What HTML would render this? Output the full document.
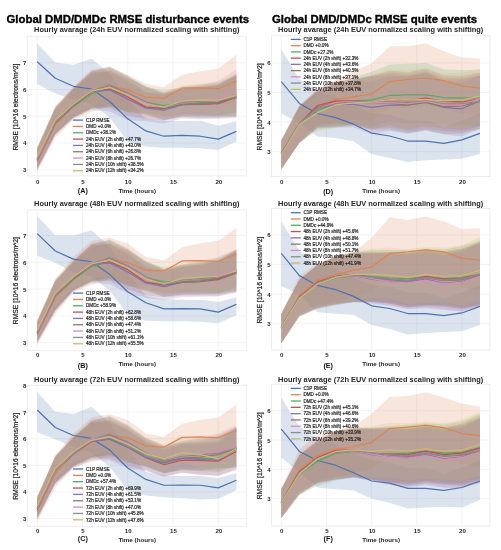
<!DOCTYPE html>
<html><head><meta charset="utf-8"><style>
html,body{margin:0;padding:0;background:#fff;}
body{width:501px;height:550px;overflow:hidden;}
svg{display:block;filter:blur(0.35px);}
text{font-family:"Liberation Sans", sans-serif;fill:#262626;}
.ttl{font-size:10.6px;font-weight:bold;fill:#000;stroke:#000;stroke-width:0.35px;}
.sub{font-size:7.8px;font-weight:bold;}
.lg{font-size:9.3px;fill:#1e1e1e;stroke:#1e1e1e;stroke-width:0.36px;}
.tk{font-size:6.1px;font-weight:bold;}
.xl{font-size:6.26px;font-weight:bold;}
.pl{font-size:7.2px;font-weight:bold;fill:#111;}
.yl{font-size:6.75px;stroke:#262626;stroke-width:0.22px;}
</style></head><body>
<svg width="501" height="550" viewBox="0 0 501 550">
<rect width="501" height="550" fill="#fff"/>
<text x="6.5" y="22.6" class="ttl" textLength="242.5" lengthAdjust="spacingAndGlyphs">Global DMD/DMDc RMSE disturbance events</text>
<text x="272" y="22.9" class="ttl" textLength="205.1" lengthAdjust="spacingAndGlyphs">Global DMD/DMDc RMSE quite events</text>
<clipPath id="clipA"><rect x="27.2" y="36.2" width="219.1" height="139.7"/></clipPath>
<path d="M37.2 36.2V175.9M82.47 36.2V175.9M127.74 36.2V175.9M173.01 36.2V175.9M218.28 36.2V175.9M27.2 169.6H246.3M27.2 142.9H246.3M27.2 116.2H246.3M27.2 89.5H246.3M27.2 62.8H246.3" stroke="#f0f0f0" stroke-width="0.8" fill="none"/>
<rect x="27.2" y="36.2" width="219.1" height="139.7" fill="none" stroke="#e9e9e9" stroke-width="0.8"/>
<g clip-path="url(#clipA)"><polygon points="37.2,43.58 55.31,62.53 73.42,64.67 91.52,58.79 109.63,73.48 127.74,100.18 145.85,118.87 163.96,121.01 182.06,121.01 200.17,120.74 218.28,125.81 236.39,121.01 236.39,141.56 218.28,150.11 200.17,148.24 182.06,147.71 163.96,147.71 145.85,146.64 127.74,141.56 109.63,117.53 91.52,103.92 73.42,99.65 55.31,93.51 37.2,83.89" fill="#4c72b0" fill-opacity="0.2"/><polygon points="37.2,147.17 55.31,106.32 73.42,86.83 91.52,69.74 109.63,66.54 127.74,75.08 145.85,83.63 163.96,87.36 182.06,74.81 200.17,71.34 218.28,68.41 236.39,54.79 236.39,102.58 218.28,104.72 200.17,102.85 182.06,102.05 163.96,111.66 145.85,110.59 127.74,110.59 109.63,106.59 91.52,111.93 73.42,119.94 55.31,137.83 37.2,171.74" fill="#dd8452" fill-opacity="0.2"/><polygon points="37.2,148.77 55.31,109.26 73.42,90.03 91.52,74.55 109.63,70.81 127.74,78.02 145.85,86.83 163.96,90.83 182.06,87.36 200.17,86.03 218.28,84.16 236.39,73.48 236.39,112.36 218.28,115.45 200.17,114.84 182.06,114.23 163.96,116.47 145.85,113.26 127.74,112.18 109.63,106.48 91.52,109.1 73.42,117.53 55.31,134.09 37.2,167.77" fill="#55a868" fill-opacity="0.2"/><polygon points="37.2,149.84 55.31,108.72 73.42,88.97 91.52,72.41 109.63,70.81 127.74,79.89 145.85,91.64 163.96,93.77 182.06,89.23 200.17,87.9 218.28,85.5 236.39,76.15 236.39,116.73 218.28,118.07 200.17,117.91 182.06,117.21 163.96,120.47 145.85,119.14 127.74,115.72 109.63,108.19 91.52,108.46 73.42,117.53 55.31,134.62 37.2,169.65" fill="#c44e52" fill-opacity="0.2"/><polygon points="37.2,149.31 55.31,108.19 73.42,88.43 91.52,72.15 109.63,71.88 127.74,82.02 145.85,92.44 163.96,95.37 182.06,89.23 200.17,87.63 218.28,84.69 236.39,75.35 236.39,118.07 218.28,118.87 200.17,119.14 182.06,118.6 163.96,123.41 145.85,121.27 127.74,119.94 109.63,111.39 91.52,110.06 73.42,118.34 55.31,135.42 37.2,170.13" fill="#8172b3" fill-opacity="0.2"/><polygon points="37.2,148.24 55.31,107.66 73.42,88.43 91.52,71.61 109.63,67.34 127.74,76.42 145.85,87.36 163.96,93.51 182.06,88.7 200.17,87.1 218.28,84.16 236.39,75.35 236.39,115.51 218.28,116.41 200.17,116.81 182.06,116.4 163.96,119.94 145.85,114.6 127.74,111.83 109.63,104.29 91.52,107.28 73.42,116.73 55.31,133.29 37.2,167.85" fill="#937860" fill-opacity="0.2"/><polygon points="37.2,148.77 55.31,107.66 73.42,87.9 91.52,70.28 109.63,69.21 127.74,77.22 145.85,87.36 163.96,92.7 182.06,87.36 200.17,84.96 218.28,80.69 236.39,69.21 236.39,107.23 218.28,111.34 200.17,113.18 182.06,113.68 163.96,117.8 145.85,113.26 127.74,110.55 109.63,104.02 91.52,104.08 73.42,114.86 55.31,131.95 37.2,167.37" fill="#da8bc3" fill-opacity="0.2"/><polygon points="37.2,148.24 55.31,107.12 73.42,87.9 91.52,71.61 109.63,66.81 127.74,75.62 145.85,86.03 163.96,92.97 182.06,86.83 200.17,84.96 218.28,82.56 236.39,74.81 236.39,116.47 218.28,115.93 200.17,115.72 182.06,115.51 163.96,120.34 145.85,114.2 127.74,112.49 109.63,105.25 91.52,108.59 73.42,117.13 55.31,133.69 37.2,168.56" fill="#8c8c8c" fill-opacity="0.2"/><polygon points="37.2,146.64 55.31,106.05 73.42,87.36 91.52,71.88 109.63,69.21 127.74,78.02 145.85,88.7 163.96,92.44 182.06,85.49 200.17,83.36 218.28,82.02 236.39,74.01 236.39,112.46 218.28,113 200.17,111.87 182.06,112.09 163.96,117.8 145.85,114.87 127.74,111.77 109.63,104.45 91.52,106.05 73.42,114.6 55.31,130.62 37.2,165.43" fill="#ccb974" fill-opacity="0.2"/><polyline points="37.2,61.73 55.31,78.29 73.42,86.3 91.52,88.97 109.63,101.52 127.74,118.87 145.85,130.88 163.96,136.22 182.06,135.42 200.17,136.22 218.28,139.16 236.39,131.42" fill="none" stroke="#4c72b0" stroke-width="1.2" stroke-linejoin="round"/><polyline points="37.2,161.59 55.31,124.48 73.42,106.59 91.52,93.24 109.63,85.23 127.74,89.77 145.85,97.24 163.96,98.31 182.06,88.17 200.17,87.9 218.28,88.7 236.39,81.22" fill="none" stroke="#dd8452" stroke-width="1.2" stroke-linejoin="round"/><polyline points="37.2,159.45 55.31,123.14 73.42,106.59 91.52,93.77 109.63,88.97 127.74,95.11 145.85,102.32 163.96,105.52 182.06,102.85 200.17,102.58 218.28,102.32 236.39,94.84" fill="none" stroke="#55a868" stroke-width="1.2" stroke-linejoin="round"/><polyline points="37.2,160.52 55.31,122.61 73.42,105.52 91.52,91.64 109.63,88.97 127.74,96.98 145.85,107.12 163.96,108.46 182.06,104.72 200.17,104.45 218.28,103.65 236.39,97.51" fill="none" stroke="#c44e52" stroke-width="1.2" stroke-linejoin="round"/><polyline points="37.2,159.99 55.31,122.07 73.42,104.99 91.52,91.37 109.63,90.03 127.74,99.11 145.85,107.92 163.96,110.06 182.06,104.72 200.17,104.18 218.28,102.85 236.39,96.71" fill="none" stroke="#8172b3" stroke-width="1.2" stroke-linejoin="round"/><polyline points="37.2,158.92 55.31,121.54 73.42,104.99 91.52,90.83 109.63,85.49 127.74,93.51 145.85,102.85 163.96,108.19 182.06,104.18 200.17,103.65 218.28,102.32 236.39,96.71" fill="none" stroke="#937860" stroke-width="1.2" stroke-linejoin="round"/><polyline points="37.2,159.45 55.31,121.54 73.42,104.45 91.52,89.5 109.63,87.36 127.74,94.31 145.85,102.85 163.96,107.39 182.06,102.85 200.17,101.52 218.28,98.84 236.39,90.57" fill="none" stroke="#da8bc3" stroke-width="1.2" stroke-linejoin="round"/><polyline points="37.2,158.92 55.31,121.01 73.42,104.45 91.52,90.83 109.63,84.96 127.74,92.7 145.85,101.52 163.96,107.66 182.06,102.32 200.17,101.52 218.28,100.71 236.39,96.17" fill="none" stroke="#8c8c8c" stroke-width="1.2" stroke-linejoin="round"/><polyline points="37.2,157.32 55.31,119.94 73.42,103.92 91.52,91.1 109.63,87.36 127.74,95.11 145.85,104.18 163.96,107.12 182.06,100.98 200.17,99.91 218.28,100.18 236.39,95.37" fill="none" stroke="#ccb974" stroke-width="1.2" stroke-linejoin="round"/></g>
<rect x="71" y="115.9" width="76" height="58.84" rx="1" fill="#ffffff" fill-opacity="0.0"/>
<path d="M73 120.1H83" stroke="#4c72b0" stroke-width="1.3"/>
<text transform="translate(86,121.8) scale(0.5)" class="lg">C1P RMSE</text>
<path d="M73 126.43H83" stroke="#dd8452" stroke-width="1.3"/>
<text transform="translate(86,128.13) scale(0.5)" class="lg">DMD +0.0%</text>
<path d="M73 132.76H83" stroke="#55a868" stroke-width="1.3"/>
<text transform="translate(86,134.46) scale(0.5)" class="lg">DMDc +38.2%</text>
<path d="M73 139.09H83" stroke="#c44e52" stroke-width="1.3"/>
<text transform="translate(86,140.79) scale(0.5)" class="lg">24h EUV (2h shift) +47.7%</text>
<path d="M73 145.42H83" stroke="#8172b3" stroke-width="1.3"/>
<text transform="translate(86,147.12) scale(0.5)" class="lg">24h EUV (4h shift) +43.0%</text>
<path d="M73 151.75H83" stroke="#937860" stroke-width="1.3"/>
<text transform="translate(86,153.45) scale(0.5)" class="lg">24h EUV (6h shift) +26.8%</text>
<path d="M73 158.08H83" stroke="#da8bc3" stroke-width="1.3"/>
<text transform="translate(86,159.78) scale(0.5)" class="lg">24h EUV (8h shift) +26.7%</text>
<path d="M73 164.41H83" stroke="#8c8c8c" stroke-width="1.3"/>
<text transform="translate(86,166.11) scale(0.5)" class="lg">24h EUV (10h shift) +38.5%</text>
<path d="M73 170.74H83" stroke="#ccb974" stroke-width="1.3"/>
<text transform="translate(86,172.44) scale(0.5)" class="lg">24h EUV (12h shift) +34.2%</text>
<text x="37.7" y="183.6" class="tk" text-anchor="middle">0</text>
<text x="82.97" y="183.6" class="tk" text-anchor="middle">5</text>
<text x="128.24" y="183.6" class="tk" text-anchor="middle">10</text>
<text x="173.51" y="183.6" class="tk" text-anchor="middle">15</text>
<text x="218.78" y="183.6" class="tk" text-anchor="middle">20</text>
<text x="24.8" y="172.1" class="tk" text-anchor="middle">3</text>
<text x="24.8" y="145.4" class="tk" text-anchor="middle">4</text>
<text x="24.8" y="118.7" class="tk" text-anchor="middle">5</text>
<text x="24.8" y="92" class="tk" text-anchor="middle">6</text>
<text x="24.8" y="65.3" class="tk" text-anchor="middle">7</text>
<text x="136.75" y="32.3" class="sub" text-anchor="middle" textLength="205.3" lengthAdjust="spacingAndGlyphs">Hourly avarage (24h EUV normalized scaling with shifting)</text>
<text x="137.25" y="193.2" class="xl" text-anchor="middle">Time (hours)</text>
<text x="82.8" y="193.4" class="pl" text-anchor="middle">(A)</text>
<text transform="translate(18.2,107.05) rotate(-90)" class="yl" text-anchor="middle">RMSE [10^16 electrons/m^2]</text>
<clipPath id="clipB"><rect x="27.2" y="210" width="219.1" height="140.7"/></clipPath>
<path d="M37.2 210V350.7M82.47 210V350.7M127.74 210V350.7M173.01 210V350.7M218.28 210V350.7M27.2 342.7H246.3M27.2 315.9H246.3M27.2 289.1H246.3M27.2 262.3H246.3M27.2 235.5H246.3" stroke="#f0f0f0" stroke-width="0.8" fill="none"/>
<rect x="27.2" y="210" width="219.1" height="140.7" fill="none" stroke="#e9e9e9" stroke-width="0.8"/>
<g clip-path="url(#clipB)"><polygon points="37.2,216.2 55.31,235.23 73.42,235.5 91.52,230.14 109.63,246.22 127.74,273.02 145.85,295.8 163.96,299.28 182.06,299.82 200.17,299.82 218.28,301.96 236.39,297.14 236.39,315.36 218.28,323.14 200.17,321.8 182.06,321.26 163.96,321.26 145.85,320.72 127.74,314.56 109.63,290.44 91.52,276.77 73.42,272.48 55.31,262.84 37.2,255.87" fill="#4c72b0" fill-opacity="0.2"/><polygon points="37.2,320.19 55.31,279.18 73.42,256.94 91.52,240.86 109.63,237.64 127.74,243.54 145.85,256.94 163.96,260.42 182.06,247.29 200.17,243.27 218.28,240.86 236.39,227.73 236.39,274.9 218.28,279.18 200.17,276.24 182.06,275.7 163.96,284.54 145.85,284.81 127.74,284.01 109.63,279.45 91.52,284.81 73.42,292.85 55.31,314.02 37.2,344.84" fill="#dd8452" fill-opacity="0.2"/><polygon points="37.2,321.8 55.31,282.13 73.42,262.84 91.52,247.29 109.63,243.54 127.74,250.78 145.85,261.76 163.96,267.39 182.06,264.98 200.17,263.1 218.28,260.16 236.39,248.9 236.39,287.48 218.28,292.88 200.17,292.47 182.06,292.61 163.96,293.12 145.85,289.39 127.74,285.51 109.63,279.34 91.52,281.97 73.42,290.44 55.31,309.69 37.2,340.87" fill="#55a868" fill-opacity="0.2"/><polygon points="37.2,322.87 55.31,281.6 73.42,261.76 91.52,245.15 109.63,243.54 127.74,252.65 145.85,266.59 163.96,270.34 182.06,266.86 200.17,264.98 218.28,261.5 236.39,251.58 236.39,291.83 218.28,295.64 200.17,295.59 182.06,295.67 163.96,297.14 145.85,295.4 127.74,289.1 109.63,281.06 91.52,281.33 73.42,290.44 55.31,310.49 37.2,342.75" fill="#c44e52" fill-opacity="0.2"/><polygon points="37.2,322.33 55.31,281.06 73.42,261.23 91.52,244.88 109.63,244.61 127.74,254.8 145.85,267.39 163.96,271.95 182.06,266.86 200.17,264.71 218.28,260.69 236.39,250.78 236.39,293.12 218.28,296.6 200.17,296.87 182.06,297.14 163.96,300.09 145.85,297.68 127.74,293.39 109.63,284.28 91.52,282.94 73.42,291.24 55.31,311.61 37.2,343.24" fill="#8172b3" fill-opacity="0.2"/><polygon points="37.2,321.26 55.31,280.52 73.42,261.23 91.52,244.34 109.63,240.06 127.74,249.17 145.85,262.3 163.96,270.07 182.06,266.32 200.17,264.18 218.28,260.16 236.39,250.78 236.39,290.61 218.28,293.95 200.17,294.47 182.06,294.84 163.96,296.6 145.85,290.82 127.74,285.19 109.63,277.15 91.52,280.15 73.42,289.64 55.31,309.08 37.2,340.94" fill="#937860" fill-opacity="0.2"/><polygon points="37.2,321.8 55.31,280.52 73.42,260.69 91.52,243 109.63,241.93 127.74,249.97 145.85,262.3 163.96,269.27 182.06,264.98 200.17,262.03 218.28,256.67 236.39,248.63 236.39,286.38 218.28,288.69 200.17,290.77 182.06,292.02 163.96,294.46 145.85,289.34 127.74,283.85 109.63,276.88 91.52,276.93 73.42,287.76 55.31,307.42 37.2,340.46" fill="#da8bc3" fill-opacity="0.2"/><polygon points="37.2,321.26 55.31,279.99 73.42,260.69 91.52,244.34 109.63,239.52 127.74,248.36 145.85,260.96 163.96,269.54 182.06,264.44 200.17,262.03 218.28,258.55 236.39,250.24 236.39,291.54 218.28,293.58 200.17,293.41 182.06,293.99 163.96,297.01 145.85,290.51 127.74,285.88 109.63,278.11 91.52,281.46 73.42,290.04 55.31,309.71 37.2,341.65" fill="#8c8c8c" fill-opacity="0.2"/><polygon points="37.2,319.65 55.31,278.92 73.42,260.16 91.52,244.61 109.63,241.93 127.74,250.78 145.85,263.64 163.96,269 182.06,263.1 200.17,260.42 218.28,258.01 236.39,249.44 236.39,287.6 218.28,290.39 200.17,289.48 182.06,290.44 163.96,294.46 145.85,290.98 127.74,285.08 109.63,277.31 91.52,278.92 73.42,287.49 55.31,306.14 37.2,338.52" fill="#ccb974" fill-opacity="0.2"/><polyline points="37.2,233.62 55.31,251.04 73.42,259.08 91.52,261.76 109.63,274.36 127.74,291.78 145.85,302.77 163.96,308.93 182.06,308.66 200.17,308.93 218.28,312.15 236.39,304.38" fill="none" stroke="#4c72b0" stroke-width="1.2" stroke-linejoin="round"/><polyline points="37.2,334.66 55.31,297.41 73.42,279.45 91.52,266.05 109.63,258.01 127.74,262.57 145.85,270.07 163.96,271.14 182.06,260.96 200.17,260.69 218.28,261.5 236.39,253.99" fill="none" stroke="#dd8452" stroke-width="1.2" stroke-linejoin="round"/><polyline points="37.2,332.52 55.31,296.07 73.42,279.45 91.52,266.59 109.63,261.76 127.74,267.93 145.85,277.31 163.96,282.13 182.06,280.52 200.17,279.72 218.28,278.38 236.39,270.34" fill="none" stroke="#55a868" stroke-width="1.2" stroke-linejoin="round"/><polyline points="37.2,333.59 55.31,295.53 73.42,278.38 91.52,264.44 109.63,261.76 127.74,269.8 145.85,282.13 163.96,285.08 182.06,282.4 200.17,281.6 218.28,279.72 236.39,273.02" fill="none" stroke="#c44e52" stroke-width="1.2" stroke-linejoin="round"/><polyline points="37.2,333.05 55.31,295 73.42,277.84 91.52,264.18 109.63,262.84 127.74,271.95 145.85,282.94 163.96,286.69 182.06,282.4 200.17,281.33 218.28,278.92 236.39,272.22" fill="none" stroke="#8172b3" stroke-width="1.2" stroke-linejoin="round"/><polyline points="37.2,331.98 55.31,294.46 73.42,277.84 91.52,263.64 109.63,258.28 127.74,266.32 145.85,277.84 163.96,284.81 182.06,281.86 200.17,280.79 218.28,278.38 236.39,272.22" fill="none" stroke="#937860" stroke-width="1.2" stroke-linejoin="round"/><polyline points="37.2,332.52 55.31,294.46 73.42,277.31 91.52,262.3 109.63,260.16 127.74,267.12 145.85,277.84 163.96,284.01 182.06,280.52 200.17,278.65 218.28,274.9 236.39,270.07" fill="none" stroke="#da8bc3" stroke-width="1.2" stroke-linejoin="round"/><polyline points="37.2,331.98 55.31,293.92 73.42,277.31 91.52,263.64 109.63,257.74 127.74,265.52 145.85,276.5 163.96,284.28 182.06,279.99 200.17,278.65 218.28,276.77 236.39,271.68" fill="none" stroke="#8c8c8c" stroke-width="1.2" stroke-linejoin="round"/><polyline points="37.2,330.37 55.31,292.85 73.42,276.77 91.52,263.91 109.63,260.16 127.74,267.93 145.85,279.18 163.96,283.74 182.06,278.65 200.17,277.04 218.28,276.24 236.39,270.88" fill="none" stroke="#ccb974" stroke-width="1.2" stroke-linejoin="round"/></g>
<rect x="71" y="288.9" width="76" height="58.84" rx="1" fill="#ffffff" fill-opacity="0.0"/>
<path d="M73 293.1H83" stroke="#4c72b0" stroke-width="1.3"/>
<text transform="translate(86,294.8) scale(0.5)" class="lg">C1P RMSE</text>
<path d="M73 299.43H83" stroke="#dd8452" stroke-width="1.3"/>
<text transform="translate(86,301.13) scale(0.5)" class="lg">DMD +0.0%</text>
<path d="M73 305.76H83" stroke="#55a868" stroke-width="1.3"/>
<text transform="translate(86,307.46) scale(0.5)" class="lg">DMDc +58.9%</text>
<path d="M73 312.09H83" stroke="#c44e52" stroke-width="1.3"/>
<text transform="translate(86,313.79) scale(0.5)" class="lg">48h EUV (2h shift) +62.8%</text>
<path d="M73 318.42H83" stroke="#8172b3" stroke-width="1.3"/>
<text transform="translate(86,320.12) scale(0.5)" class="lg">48h EUV (4h shift) +58.6%</text>
<path d="M73 324.75H83" stroke="#937860" stroke-width="1.3"/>
<text transform="translate(86,326.45) scale(0.5)" class="lg">48h EUV (6h shift) +47.4%</text>
<path d="M73 331.08H83" stroke="#da8bc3" stroke-width="1.3"/>
<text transform="translate(86,332.78) scale(0.5)" class="lg">48h EUV (8h shift) +51.2%</text>
<path d="M73 337.41H83" stroke="#8c8c8c" stroke-width="1.3"/>
<text transform="translate(86,339.11) scale(0.5)" class="lg">48h EUV (10h shift) +61.1%</text>
<path d="M73 343.74H83" stroke="#ccb974" stroke-width="1.3"/>
<text transform="translate(86,345.44) scale(0.5)" class="lg">48h EUV (12h shift) +55.5%</text>
<text x="37.7" y="357" class="tk" text-anchor="middle">0</text>
<text x="82.97" y="357" class="tk" text-anchor="middle">5</text>
<text x="128.24" y="357" class="tk" text-anchor="middle">10</text>
<text x="173.51" y="357" class="tk" text-anchor="middle">15</text>
<text x="218.78" y="357" class="tk" text-anchor="middle">20</text>
<text x="24.8" y="345.2" class="tk" text-anchor="middle">3</text>
<text x="24.8" y="318.4" class="tk" text-anchor="middle">4</text>
<text x="24.8" y="291.6" class="tk" text-anchor="middle">5</text>
<text x="24.8" y="264.8" class="tk" text-anchor="middle">6</text>
<text x="24.8" y="238" class="tk" text-anchor="middle">7</text>
<text x="136.75" y="205.7" class="sub" text-anchor="middle" textLength="205.3" lengthAdjust="spacingAndGlyphs">Hourly avarage (48h EUV normalized scaling with shifting)</text>
<text x="137.25" y="366.4" class="xl" text-anchor="middle">Time (hours)</text>
<text x="82.8" y="367.6" class="pl" text-anchor="middle">(B)</text>
<text transform="translate(18.2,280.65) rotate(-90)" class="yl" text-anchor="middle">RMSE [10^16 electrons/m^2]</text>
<clipPath id="clipC"><rect x="27.2" y="385.2" width="219.1" height="141.1"/></clipPath>
<path d="M37.2 385.2V526.3M82.47 385.2V526.3M127.74 385.2V526.3M173.01 385.2V526.3M218.28 385.2V526.3M27.2 518.5H246.3M27.2 491.9H246.3M27.2 465.3H246.3M27.2 438.7H246.3M27.2 412.1H246.3M27.2 385.5H246.3" stroke="#f0f0f0" stroke-width="0.8" fill="none"/>
<rect x="27.2" y="385.2" width="219.1" height="141.1" fill="none" stroke="#e9e9e9" stroke-width="0.8"/>
<g clip-path="url(#clipC)"><polygon points="37.2,392.15 55.31,411.83 73.42,413.96 91.52,407.05 109.63,422.74 127.74,449.34 145.85,471.95 163.96,475.41 182.06,475.94 200.17,475.94 218.28,478.07 236.39,473.28 236.39,490.3 218.28,498.82 200.17,499.61 182.06,498.28 163.96,497.22 145.85,495.62 127.74,490.57 109.63,466.63 91.52,453.06 73.42,446.68 55.31,439.23 37.2,432.32" fill="#4c72b0" fill-opacity="0.2"/><polygon points="37.2,496.16 55.31,455.46 73.42,433.38 91.52,417.42 109.63,414.23 127.74,420.08 145.85,433.38 163.96,436.84 182.06,423.8 200.17,419.81 218.28,417.42 236.39,404.39 236.39,450.94 218.28,453.86 200.17,452.27 182.06,451.2 163.96,460.51 145.85,459.71 127.74,459.18 109.63,456.26 91.52,461.84 73.42,467.43 55.31,487.38 37.2,521.96" fill="#dd8452" fill-opacity="0.2"/><polygon points="37.2,497.75 55.31,456.79 73.42,437.1 91.52,422.21 109.63,420.08 127.74,428.33 145.85,440.3 163.96,448.01 182.06,442.42 200.17,441.89 218.28,440.3 236.39,428.06 236.39,466.35 218.28,471.47 200.17,471.03 182.06,469.19 163.96,473.55 145.85,467.07 127.74,462.8 109.63,455.62 91.52,457.06 73.42,464.94 55.31,481.96 37.2,517.12" fill="#55a868" fill-opacity="0.2"/><polygon points="37.2,498.82 55.31,456.79 73.42,437.64 91.52,422.21 109.63,421.14 127.74,430.19 145.85,442.16 163.96,450.14 182.06,444.82 200.17,444.02 218.28,442.96 236.39,430.19 236.39,470.14 218.28,475.41 200.17,474.4 182.06,472.69 163.96,476.74 145.85,470.03 127.74,466.36 109.63,458.38 91.52,458.6 73.42,466.58 55.31,483.07 37.2,519.03" fill="#c44e52" fill-opacity="0.2"/><polygon points="37.2,498.28 55.31,456.79 73.42,437.64 91.52,422.21 109.63,421.14 127.74,430.19 145.85,441.89 163.96,448.54 182.06,443.22 200.17,442.96 218.28,441.89 236.39,426.73 236.39,468.76 218.28,475.94 200.17,474.88 182.06,472.48 163.96,476.47 145.85,471.15 127.74,468.49 109.63,460.51 91.52,460.51 73.42,467.96 55.31,484.45 37.2,519.56" fill="#8172b3" fill-opacity="0.2"/><polygon points="37.2,497.22 55.31,456.79 73.42,437.64 91.52,420.88 109.63,416.62 127.74,425.67 145.85,438.7 163.96,446.41 182.06,442.69 200.17,440.56 218.28,436.57 236.39,427.26 236.39,466.8 218.28,468.7 200.17,470.63 182.06,470.29 163.96,472.75 145.85,466.3 127.74,461.42 109.63,453.44 91.52,456.88 73.42,466.3 55.31,482.79 37.2,517.22" fill="#937860" fill-opacity="0.2"/><polygon points="37.2,497.75 55.31,456.79 73.42,437.1 91.52,419.55 109.63,418.48 127.74,426.46 145.85,438.7 163.96,445.62 182.06,441.36 200.17,438.43 218.28,433.11 236.39,425.13 236.39,462.6 218.28,463.65 200.17,466.96 182.06,467.58 163.96,470.62 145.85,464.92 127.74,460.09 109.63,453.17 91.52,453.64 73.42,464.38 55.31,481.41 37.2,516.69" fill="#da8bc3" fill-opacity="0.2"/><polygon points="37.2,497.22 55.31,456.26 73.42,437.1 91.52,420.88 109.63,416.09 127.74,424.87 145.85,437.37 163.96,445.88 182.06,440.83 200.17,438.43 218.28,434.98 236.39,426.73 236.39,467.72 218.28,468.23 200.17,469.58 182.06,469.4 163.96,473.15 145.85,465.94 127.74,462.11 109.63,454.39 91.52,458.22 73.42,466.74 55.31,483.23 37.2,517.97" fill="#8c8c8c" fill-opacity="0.2"/><polygon points="37.2,495.36 55.31,454.39 73.42,434.98 91.52,421.14 109.63,418.75 127.74,427.53 145.85,438.17 163.96,444.29 182.06,437.1 200.17,438.17 218.28,440.83 236.39,427.26 236.39,465.14 218.28,471.68 200.17,467 182.06,463.6 163.96,469.56 145.85,464.66 127.74,461.58 109.63,453.86 91.52,455.62 73.42,462.53 55.31,479.29 37.2,514.51" fill="#ccb974" fill-opacity="0.2"/><polyline points="37.2,409.97 55.31,427.53 73.42,435.51 91.52,438.43 109.63,449.87 127.74,467.96 145.85,479.4 163.96,485.25 182.06,484.98 200.17,485.25 218.28,487.91 236.39,480.2" fill="none" stroke="#4c72b0" stroke-width="1.2" stroke-linejoin="round"/><polyline points="37.2,511.32 55.31,473.55 73.42,453.6 91.52,442.69 109.63,434.98 127.74,437.9 145.85,445.88 163.96,447.21 182.06,437.37 200.17,436.84 218.28,437.9 236.39,430.19" fill="none" stroke="#dd8452" stroke-width="1.2" stroke-linejoin="round"/><polyline points="37.2,508.39 55.31,470.62 73.42,453.6 91.52,441.36 109.63,438.17 127.74,445.35 145.85,455.72 163.96,462.64 182.06,457.85 200.17,458.38 218.28,458.38 236.39,449.34" fill="none" stroke="#55a868" stroke-width="1.2" stroke-linejoin="round"/><polyline points="37.2,509.46 55.31,470.62 73.42,454.13 91.52,441.36 109.63,439.23 127.74,447.21 145.85,457.59 163.96,464.77 182.06,460.25 200.17,460.51 218.28,461.04 236.39,451.47" fill="none" stroke="#c44e52" stroke-width="1.2" stroke-linejoin="round"/><polyline points="37.2,508.92 55.31,470.62 73.42,454.13 91.52,441.36 109.63,439.23 127.74,447.21 145.85,457.32 163.96,463.17 182.06,458.65 200.17,459.45 218.28,459.98 236.39,448.01" fill="none" stroke="#8172b3" stroke-width="1.2" stroke-linejoin="round"/><polyline points="37.2,507.86 55.31,470.62 73.42,454.13 91.52,440.03 109.63,434.71 127.74,442.69 145.85,454.13 163.96,461.04 182.06,458.12 200.17,457.05 218.28,454.66 236.39,448.54" fill="none" stroke="#937860" stroke-width="1.2" stroke-linejoin="round"/><polyline points="37.2,508.39 55.31,470.62 73.42,453.6 91.52,438.7 109.63,436.57 127.74,443.49 145.85,454.13 163.96,460.25 182.06,456.79 200.17,454.93 218.28,451.2 236.39,446.41" fill="none" stroke="#da8bc3" stroke-width="1.2" stroke-linejoin="round"/><polyline points="37.2,507.86 55.31,470.09 73.42,453.6 91.52,440.03 109.63,434.18 127.74,441.89 145.85,452.8 163.96,460.51 182.06,456.26 200.17,454.93 218.28,453.06 236.39,448.01" fill="none" stroke="#8c8c8c" stroke-width="1.2" stroke-linejoin="round"/><polyline points="37.2,506 55.31,468.23 73.42,451.47 91.52,440.3 109.63,436.84 127.74,444.55 145.85,453.6 163.96,458.92 182.06,452.53 200.17,454.66 218.28,458.92 236.39,448.54" fill="none" stroke="#ccb974" stroke-width="1.2" stroke-linejoin="round"/></g>
<rect x="71" y="464.8" width="76" height="59" rx="1" fill="#ffffff" fill-opacity="0.0"/>
<path d="M73 469H83" stroke="#4c72b0" stroke-width="1.3"/>
<text transform="translate(86,470.7) scale(0.5)" class="lg">C1P RMSE</text>
<path d="M73 475.35H83" stroke="#dd8452" stroke-width="1.3"/>
<text transform="translate(86,477.05) scale(0.5)" class="lg">DMD +0.0%</text>
<path d="M73 481.7H83" stroke="#55a868" stroke-width="1.3"/>
<text transform="translate(86,483.4) scale(0.5)" class="lg">DMDc +57.4%</text>
<path d="M73 488.05H83" stroke="#c44e52" stroke-width="1.3"/>
<text transform="translate(86,489.75) scale(0.5)" class="lg">72h EUV (2h shift) +69.9%</text>
<path d="M73 494.4H83" stroke="#8172b3" stroke-width="1.3"/>
<text transform="translate(86,496.1) scale(0.5)" class="lg">72h EUV (4h shift) +61.5%</text>
<path d="M73 500.75H83" stroke="#937860" stroke-width="1.3"/>
<text transform="translate(86,502.45) scale(0.5)" class="lg">72h EUV (6h shift) +53.1%</text>
<path d="M73 507.1H83" stroke="#da8bc3" stroke-width="1.3"/>
<text transform="translate(86,508.8) scale(0.5)" class="lg">72h EUV (8h shift) +47.0%</text>
<path d="M73 513.45H83" stroke="#8c8c8c" stroke-width="1.3"/>
<text transform="translate(86,515.15) scale(0.5)" class="lg">72h EUV (10h shift) +45.8%</text>
<path d="M73 519.8H83" stroke="#ccb974" stroke-width="1.3"/>
<text transform="translate(86,521.5) scale(0.5)" class="lg">72h EUV (12h shift) +47.6%</text>
<text x="37.7" y="532.7" class="tk" text-anchor="middle">0</text>
<text x="82.97" y="532.7" class="tk" text-anchor="middle">5</text>
<text x="128.24" y="532.7" class="tk" text-anchor="middle">10</text>
<text x="173.51" y="532.7" class="tk" text-anchor="middle">15</text>
<text x="218.78" y="532.7" class="tk" text-anchor="middle">20</text>
<text x="24.8" y="521" class="tk" text-anchor="middle">3</text>
<text x="24.8" y="494.4" class="tk" text-anchor="middle">4</text>
<text x="24.8" y="467.8" class="tk" text-anchor="middle">5</text>
<text x="24.8" y="441.2" class="tk" text-anchor="middle">6</text>
<text x="24.8" y="414.6" class="tk" text-anchor="middle">7</text>
<text x="24.8" y="388" class="tk" text-anchor="middle">8</text>
<text x="136.75" y="381.6" class="sub" text-anchor="middle" textLength="205.3" lengthAdjust="spacingAndGlyphs">Hourly avarage (72h EUV normalized scaling with shifting)</text>
<text x="137.25" y="542.1" class="xl" text-anchor="middle">Time (hours)</text>
<text x="82.8" y="540.9" class="pl" text-anchor="middle">(C)</text>
<text transform="translate(18.2,456.25) rotate(-90)" class="yl" text-anchor="middle">RMSE [10^16 electrons/m^2]</text>
<clipPath id="clipD"><rect x="271.4" y="35.8" width="218.6" height="140.8"/></clipPath>
<path d="M281.3 35.8V176.6M326.45 35.8V176.6M371.6 35.8V176.6M416.75 35.8V176.6M461.9 35.8V176.6M271.4 151.7H490M271.4 122.1H490M271.4 92.5H490M271.4 62.9H490" stroke="#f0f0f0" stroke-width="0.8" fill="none"/>
<rect x="271.4" y="35.8" width="218.6" height="140.8" fill="none" stroke="#e9e9e9" stroke-width="0.8"/>
<g clip-path="url(#clipD)"><polygon points="281.3,49.28 299.36,79.18 317.42,91.02 335.48,96.94 353.54,105.82 371.6,113.22 389.66,114.7 407.72,120.62 425.78,120.62 443.84,126.54 461.9,120.62 479.96,113.22 479.96,154.07 461.9,158.8 443.84,159.4 425.78,160.28 407.72,162.06 389.66,157.92 371.6,154.07 353.54,141.34 335.48,138.08 317.42,136.6 299.36,122.99 281.3,113.52" fill="#4c72b0" fill-opacity="0.2"/><polygon points="281.3,139.56 299.36,104.64 317.42,89.54 335.48,80.07 353.54,71.19 371.6,63.49 389.66,46.32 407.72,46.32 425.78,43.36 443.84,51.36 461.9,57.57 479.96,58.46 479.96,115.59 461.9,113.81 443.84,107.89 425.78,106.12 407.72,107.89 389.66,107.3 371.6,121.21 353.54,120.03 335.48,122.69 317.42,127.72 299.36,142.82 281.3,167.68" fill="#dd8452" fill-opacity="0.2"/><polygon points="281.3,139.86 299.36,105.52 317.42,91.91 335.48,83.03 353.54,77.7 371.6,71.78 389.66,64.38 407.72,63.79 425.78,62.9 443.84,69.41 461.9,70 479.96,69.71 479.96,125.36 461.9,125.95 443.84,124.76 425.78,122.99 407.72,123.28 389.66,121.21 371.6,127.13 353.54,124.47 335.48,127.43 317.42,129.2 299.36,142.82 281.3,169.16" fill="#55a868" fill-opacity="0.2"/><polygon points="281.3,141 299.36,106.7 317.42,88.64 335.48,81.48 353.54,79 371.6,76.1 389.66,70.71 407.72,72.19 425.78,68.71 443.84,75.51 461.9,76.1 479.96,72.85 479.96,126.24 461.9,129.8 443.84,128.61 425.78,126.24 407.72,129.2 389.66,125.06 371.6,129.2 353.54,123.88 335.48,124.17 317.42,124.47 299.36,142.52 281.3,169.16" fill="#c44e52" fill-opacity="0.2"/><polygon points="281.3,141 299.36,107.29 317.42,91.9 335.48,84.73 353.54,82.55 371.6,81.43 389.66,76.63 407.72,76.63 425.78,72.56 443.84,81.43 461.9,82.91 479.96,74.92 479.96,128.32 461.9,136.6 443.84,134.53 425.78,130.09 407.72,133.64 389.66,130.98 371.6,134.53 353.54,127.43 335.48,127.43 317.42,127.72 299.36,143.12 281.3,169.16" fill="#8172b3" fill-opacity="0.2"/><polygon points="281.3,141 299.36,106.7 317.42,90.42 335.48,83.25 353.54,80.19 371.6,76.99 389.66,75.15 407.72,76.34 425.78,73.15 443.84,80.84 461.9,79.95 479.96,75.51 479.96,128.91 461.9,133.64 443.84,133.94 425.78,130.68 407.72,133.35 389.66,129.5 371.6,130.09 353.54,125.06 335.48,125.95 317.42,126.24 299.36,142.52 281.3,169.16" fill="#937860" fill-opacity="0.2"/><polygon points="281.3,141 299.36,106.99 317.42,91.9 335.48,82.96 353.54,79.59 371.6,76.99 389.66,73.97 407.72,75.15 425.78,71.97 443.84,78.47 461.9,79.36 479.96,72.55 479.96,125.95 461.9,133.05 443.84,131.57 425.78,129.5 407.72,132.16 389.66,128.32 371.6,130.09 353.54,124.47 335.48,125.65 317.42,127.72 299.36,142.82 281.3,169.16" fill="#da8bc3" fill-opacity="0.2"/><polygon points="281.3,141 299.36,106.99 317.42,91.9 335.48,84.14 353.54,80.19 371.6,75.51 389.66,72.79 407.72,73.97 425.78,71.08 443.84,77.88 461.9,77.88 479.96,75.51 479.96,128.91 461.9,131.57 443.84,130.98 425.78,128.61 407.72,130.98 389.66,127.13 371.6,128.61 353.54,125.06 335.48,126.84 317.42,127.72 299.36,142.82 281.3,169.16" fill="#8c8c8c" fill-opacity="0.2"/><polygon points="281.3,141.17 299.36,106.67 317.42,94.83 335.48,84.26 353.54,79.89 371.6,74.7 389.66,69.46 407.72,70.05 425.78,68.3 443.84,73.51 461.9,72.92 479.96,68.78 479.96,123.58 461.9,128.02 443.84,128.02 425.78,127.43 407.72,128.61 389.66,125.36 371.6,129.2 353.54,125.95 335.48,128.02 317.42,131.57 299.36,143.41 281.3,170.05" fill="#ccb974" fill-opacity="0.2"/><polyline points="281.3,81.55 299.36,103.45 317.42,113.52 335.48,117.66 353.54,124.17 371.6,133.05 389.66,136.01 407.72,141.04 425.78,141.04 443.84,143.41 461.9,139.86 479.96,133.35" fill="none" stroke="#4c72b0" stroke-width="1.2" stroke-linejoin="round"/><polyline points="281.3,152.59 299.36,123.88 317.42,108.78 335.48,99.6 353.54,96.94 371.6,93.98 389.66,81.55 407.72,79.48 425.78,78 443.84,80.66 461.9,85.99 479.96,88.06" fill="none" stroke="#dd8452" stroke-width="1.2" stroke-linejoin="round"/><polyline points="281.3,154.07 299.36,123.88 317.42,110.26 335.48,104.34 353.54,101.38 371.6,99.9 389.66,95.46 407.72,94.87 425.78,94.87 443.84,97.53 461.9,98.12 479.96,97.83" fill="none" stroke="#55a868" stroke-width="1.2" stroke-linejoin="round"/><polyline points="281.3,154.07 299.36,123.58 317.42,105.52 335.48,101.08 353.54,100.79 371.6,101.97 389.66,99.31 407.72,100.79 425.78,98.12 443.84,101.38 461.9,101.97 479.96,98.72" fill="none" stroke="#c44e52" stroke-width="1.2" stroke-linejoin="round"/><polyline points="281.3,154.07 299.36,124.17 317.42,108.78 335.48,104.34 353.54,104.34 371.6,107.3 389.66,105.23 407.72,105.23 425.78,101.97 443.84,107.3 461.9,108.78 479.96,100.79" fill="none" stroke="#8172b3" stroke-width="1.2" stroke-linejoin="round"/><polyline points="281.3,154.07 299.36,123.58 317.42,107.3 335.48,102.86 353.54,101.97 371.6,102.86 389.66,103.75 407.72,104.93 425.78,102.56 443.84,106.71 461.9,105.82 479.96,101.38" fill="none" stroke="#937860" stroke-width="1.2" stroke-linejoin="round"/><polyline points="281.3,154.07 299.36,123.88 317.42,108.78 335.48,102.56 353.54,101.38 371.6,102.86 389.66,102.56 407.72,103.75 425.78,101.38 443.84,104.34 461.9,105.23 479.96,98.42" fill="none" stroke="#da8bc3" stroke-width="1.2" stroke-linejoin="round"/><polyline points="281.3,154.07 299.36,123.88 317.42,108.78 335.48,103.75 353.54,101.97 371.6,101.38 389.66,101.38 407.72,102.56 425.78,100.49 443.84,103.75 461.9,103.75 479.96,101.38" fill="none" stroke="#8c8c8c" stroke-width="1.2" stroke-linejoin="round"/><polyline points="281.3,154.96 299.36,124.47 317.42,112.63 335.48,104.93 353.54,102.86 371.6,101.97 389.66,99.6 407.72,100.2 425.78,99.31 443.84,100.79 461.9,100.2 479.96,96.05" fill="none" stroke="#ccb974" stroke-width="1.2" stroke-linejoin="round"/></g>
<rect x="288.8" y="35.2" width="76" height="58.12" rx="1" fill="#ffffff" fill-opacity="0.0"/>
<path d="M290.8 39.4H300.8" stroke="#4c72b0" stroke-width="1.3"/>
<text transform="translate(303.4,41.1) scale(0.5)" class="lg">C1P RMSE</text>
<path d="M290.8 45.64H300.8" stroke="#dd8452" stroke-width="1.3"/>
<text transform="translate(303.4,47.34) scale(0.5)" class="lg">DMD +0.0%</text>
<path d="M290.8 51.88H300.8" stroke="#55a868" stroke-width="1.3"/>
<text transform="translate(303.4,53.58) scale(0.5)" class="lg">DMDc +27.2%</text>
<path d="M290.8 58.12H300.8" stroke="#c44e52" stroke-width="1.3"/>
<text transform="translate(303.4,59.82) scale(0.5)" class="lg">24h EUV (2h shift) +32.3%</text>
<path d="M290.8 64.36H300.8" stroke="#8172b3" stroke-width="1.3"/>
<text transform="translate(303.4,66.06) scale(0.5)" class="lg">24h EUV (4h shift) +43.6%</text>
<path d="M290.8 70.6H300.8" stroke="#937860" stroke-width="1.3"/>
<text transform="translate(303.4,72.3) scale(0.5)" class="lg">24h EUV (6h shift) +40.5%</text>
<path d="M290.8 76.84H300.8" stroke="#da8bc3" stroke-width="1.3"/>
<text transform="translate(303.4,78.54) scale(0.5)" class="lg">24h EUV (8h shift) +37.1%</text>
<path d="M290.8 83.08H300.8" stroke="#8c8c8c" stroke-width="1.3"/>
<text transform="translate(303.4,84.78) scale(0.5)" class="lg">24h EUV (10h shift) +37.8%</text>
<path d="M290.8 89.32H300.8" stroke="#ccb974" stroke-width="1.3"/>
<text transform="translate(303.4,91.02) scale(0.5)" class="lg">24h EUV (12h shift) +34.7%</text>
<text x="281.8" y="183.5" class="tk" text-anchor="middle">0</text>
<text x="326.95" y="183.5" class="tk" text-anchor="middle">5</text>
<text x="372.1" y="183.5" class="tk" text-anchor="middle">10</text>
<text x="417.25" y="183.5" class="tk" text-anchor="middle">15</text>
<text x="462.4" y="183.5" class="tk" text-anchor="middle">20</text>
<text x="269" y="154.2" class="tk" text-anchor="middle">3</text>
<text x="269" y="124.6" class="tk" text-anchor="middle">4</text>
<text x="269" y="95" class="tk" text-anchor="middle">5</text>
<text x="269" y="65.4" class="tk" text-anchor="middle">6</text>
<text x="380.7" y="32.3" class="sub" text-anchor="middle" textLength="205.3" lengthAdjust="spacingAndGlyphs">Hourly avarage (24h EUV normalized scaling with shifting)</text>
<text x="381.2" y="193.2" class="xl" text-anchor="middle">Time (hours)</text>
<text x="328.2" y="193.5" class="pl" text-anchor="middle">(D)</text>
<text transform="translate(261.6,106.9) rotate(-90)" class="yl" text-anchor="middle">RMSE [10^16 electrons/m^2]</text>
<clipPath id="clipE"><rect x="271.4" y="208.6" width="218.6" height="141.5"/></clipPath>
<path d="M281.3 208.6V350.1M326.45 208.6V350.1M371.6 208.6V350.1M416.75 208.6V350.1M461.9 208.6V350.1M271.4 323.6H490M271.4 294H490M271.4 264.4H490M271.4 234.8H490" stroke="#f0f0f0" stroke-width="0.8" fill="none"/>
<rect x="271.4" y="208.6" width="218.6" height="141.5" fill="none" stroke="#e9e9e9" stroke-width="0.8"/>
<g clip-path="url(#clipE)"><polygon points="281.3,221.18 299.36,251.08 317.42,262.92 335.48,268.84 353.54,277.72 371.6,285.12 389.66,286.6 407.72,292.52 425.78,292.52 443.84,298.44 461.9,292.52 479.96,285.12 479.96,325.08 461.9,331.3 443.84,331.89 425.78,333.07 407.72,334.55 389.66,328.93 371.6,325.08 353.54,314.72 335.48,313.83 317.42,312.35 299.36,294.3 281.3,286.01" fill="#4c72b0" fill-opacity="0.2"/><polygon points="281.3,312.94 299.36,275.65 317.42,262.92 335.48,257 353.54,251.97 371.6,237.76 389.66,217.34 407.72,220 425.78,216.45 443.84,221.48 461.9,228.88 479.96,228.29 479.96,290.74 461.9,287.78 443.84,278.02 425.78,278.31 407.72,278.61 389.66,277.42 371.6,291.34 353.54,296.96 335.48,301.7 317.42,305.25 299.36,313.83 281.3,343.14" fill="#dd8452" fill-opacity="0.2"/><polygon points="281.3,313.54 299.36,279.79 317.42,265.58 335.48,256.7 353.54,252.56 371.6,250.19 389.66,249.9 407.72,249.9 425.78,248.71 443.84,249.6 461.9,246.34 479.96,240.42 479.96,304.95 461.9,307.02 443.84,304.66 425.78,305.25 407.72,305.25 389.66,301.99 371.6,300.51 353.54,302.29 335.48,305.25 317.42,308.8 299.36,316.5 281.3,343.14" fill="#55a868" fill-opacity="0.2"/><polygon points="281.3,314.1 299.36,279.34 317.42,264.54 335.48,255.78 353.54,252.3 371.6,252.42 389.66,252.2 407.72,253.12 425.78,249.24 443.84,251.35 461.9,248.77 479.96,241.79 479.96,304.95 461.9,308.21 443.84,305.25 425.78,304.66 407.72,307.32 389.66,303.18 371.6,301.7 353.54,301.1 335.48,303.47 317.42,307.02 299.36,315.31 281.3,343.14" fill="#c44e52" fill-opacity="0.2"/><polygon points="281.3,314.1 299.36,280.23 317.42,265.73 335.48,256.96 353.54,253.48 371.6,254.19 389.66,254.57 407.72,254.6 425.78,252.2 443.84,255.5 461.9,251.73 479.96,242.97 479.96,306.14 461.9,311.17 443.84,309.39 425.78,307.62 407.72,308.8 389.66,305.54 371.6,303.47 353.54,302.29 335.48,304.66 317.42,308.21 299.36,316.2 281.3,343.14" fill="#8172b3" fill-opacity="0.2"/><polygon points="281.3,314.1 299.36,279.93 317.42,265.13 335.48,256.37 353.54,252.89 371.6,252.71 389.66,252.8 407.72,253.41 425.78,250.72 443.84,252.83 461.9,249.96 479.96,242.97 479.96,306.14 461.9,309.39 443.84,306.73 425.78,306.14 407.72,307.62 389.66,303.77 371.6,301.99 353.54,301.7 335.48,304.06 317.42,307.62 299.36,315.9 281.3,343.14" fill="#937860" fill-opacity="0.2"/><polygon points="281.3,314.1 299.36,280.23 317.42,265.73 335.48,256.67 353.54,253.19 371.6,253.6 389.66,254.87 407.72,255.19 425.78,253.09 443.84,256.09 461.9,252.32 479.96,243.56 479.96,306.73 461.9,311.76 443.84,309.98 425.78,308.5 407.72,309.39 389.66,305.84 371.6,302.88 353.54,301.99 335.48,304.36 317.42,308.21 299.36,316.2 281.3,343.14" fill="#da8bc3" fill-opacity="0.2"/><polygon points="281.3,314.1 299.36,280.23 317.42,265.43 335.48,256.67 353.54,252.89 371.6,252.42 389.66,252.2 407.72,252.82 425.78,250.43 443.84,252.54 461.9,249.36 479.96,241.79 479.96,304.95 461.9,308.8 443.84,306.43 425.78,305.84 407.72,307.02 389.66,303.18 371.6,301.7 353.54,301.7 335.48,304.36 317.42,307.91 299.36,316.2 281.3,343.14" fill="#8c8c8c" fill-opacity="0.2"/><polygon points="281.3,313.82 299.36,280.46 317.42,266.25 335.48,256.54 353.54,251.84 371.6,248.94 389.66,247.5 407.72,249.29 425.78,246.91 443.84,247.81 461.9,245.19 479.96,236.96 479.96,300.81 461.9,305.25 443.84,302.29 425.78,302.88 407.72,304.06 389.66,299.03 371.6,298.74 353.54,301.1 335.48,304.66 317.42,309.1 299.36,316.79 281.3,343.14" fill="#ccb974" fill-opacity="0.2"/><polyline points="281.3,253.45 299.36,275.65 317.42,285.42 335.48,289.56 353.54,296.37 371.6,305.84 389.66,308.5 407.72,313.54 425.78,313.54 443.84,315.61 461.9,312.94 479.96,306.43" fill="none" stroke="#4c72b0" stroke-width="1.2" stroke-linejoin="round"/><polyline points="281.3,327.74 299.36,295.48 317.42,280.38 335.48,274.46 353.54,270.32 371.6,267.06 389.66,253.45 407.72,251.97 425.78,249.9 443.84,251.97 461.9,258.18 479.96,260.26" fill="none" stroke="#dd8452" stroke-width="1.2" stroke-linejoin="round"/><polyline points="281.3,327.74 299.36,298.14 317.42,283.94 335.48,278.02 353.54,275.65 371.6,276.24 389.66,278.02 407.72,278.61 425.78,276.83 443.84,278.61 461.9,277.42 479.96,274.46" fill="none" stroke="#55a868" stroke-width="1.2" stroke-linejoin="round"/><polyline points="281.3,327.74 299.36,296.96 317.42,282.16 335.48,276.24 353.54,274.46 371.6,277.42 389.66,279.2 407.72,280.68 425.78,276.24 443.84,279.2 461.9,278.61 479.96,274.46" fill="none" stroke="#c44e52" stroke-width="1.2" stroke-linejoin="round"/><polyline points="281.3,327.74 299.36,297.85 317.42,283.34 335.48,277.42 353.54,275.65 371.6,279.2 389.66,281.57 407.72,282.16 425.78,279.2 443.84,283.34 461.9,281.57 479.96,275.65" fill="none" stroke="#8172b3" stroke-width="1.2" stroke-linejoin="round"/><polyline points="281.3,327.74 299.36,297.55 317.42,282.75 335.48,276.83 353.54,275.06 371.6,277.72 389.66,279.79 407.72,280.98 425.78,277.72 443.84,280.68 461.9,279.79 479.96,275.65" fill="none" stroke="#937860" stroke-width="1.2" stroke-linejoin="round"/><polyline points="281.3,327.74 299.36,297.85 317.42,283.34 335.48,277.13 353.54,275.35 371.6,278.61 389.66,281.86 407.72,282.75 425.78,280.09 443.84,283.94 461.9,282.16 479.96,276.24" fill="none" stroke="#da8bc3" stroke-width="1.2" stroke-linejoin="round"/><polyline points="281.3,327.74 299.36,297.85 317.42,283.05 335.48,277.13 353.54,275.06 371.6,277.42 389.66,279.2 407.72,280.38 425.78,277.42 443.84,280.38 461.9,279.2 479.96,274.46" fill="none" stroke="#8c8c8c" stroke-width="1.2" stroke-linejoin="round"/><polyline points="281.3,327.74 299.36,298.44 317.42,284.23 335.48,277.42 353.54,274.46 371.6,274.46 389.66,275.06 407.72,277.42 425.78,274.46 443.84,276.24 461.9,275.65 479.96,270.32" fill="none" stroke="#ccb974" stroke-width="1.2" stroke-linejoin="round"/></g>
<rect x="288.8" y="208.5" width="76" height="58.52" rx="1" fill="#ffffff" fill-opacity="0.0"/>
<path d="M290.8 212.7H300.8" stroke="#4c72b0" stroke-width="1.3"/>
<text transform="translate(303.4,214.4) scale(0.5)" class="lg">C1P RMSE</text>
<path d="M290.8 218.99H300.8" stroke="#dd8452" stroke-width="1.3"/>
<text transform="translate(303.4,220.69) scale(0.5)" class="lg">DMD +0.0%</text>
<path d="M290.8 225.28H300.8" stroke="#55a868" stroke-width="1.3"/>
<text transform="translate(303.4,226.98) scale(0.5)" class="lg">DMDc +44.9%</text>
<path d="M290.8 231.57H300.8" stroke="#c44e52" stroke-width="1.3"/>
<text transform="translate(303.4,233.27) scale(0.5)" class="lg">48h EUV (2h shift) +45.6%</text>
<path d="M290.8 237.86H300.8" stroke="#8172b3" stroke-width="1.3"/>
<text transform="translate(303.4,239.56) scale(0.5)" class="lg">48h EUV (4h shift) +48.8%</text>
<path d="M290.8 244.15H300.8" stroke="#937860" stroke-width="1.3"/>
<text transform="translate(303.4,245.85) scale(0.5)" class="lg">48h EUV (6h shift) +50.1%</text>
<path d="M290.8 250.44H300.8" stroke="#da8bc3" stroke-width="1.3"/>
<text transform="translate(303.4,252.14) scale(0.5)" class="lg">48h EUV (8h shift) +51.7%</text>
<path d="M290.8 256.73H300.8" stroke="#8c8c8c" stroke-width="1.3"/>
<text transform="translate(303.4,258.43) scale(0.5)" class="lg">48h EUV (10h shift) +47.4%</text>
<path d="M290.8 263.02H300.8" stroke="#ccb974" stroke-width="1.3"/>
<text transform="translate(303.4,264.72) scale(0.5)" class="lg">48h EUV (12h shift) +41.9%</text>
<text x="281.8" y="356.8" class="tk" text-anchor="middle">0</text>
<text x="326.95" y="356.8" class="tk" text-anchor="middle">5</text>
<text x="372.1" y="356.8" class="tk" text-anchor="middle">10</text>
<text x="417.25" y="356.8" class="tk" text-anchor="middle">15</text>
<text x="462.4" y="356.8" class="tk" text-anchor="middle">20</text>
<text x="269" y="326.1" class="tk" text-anchor="middle">3</text>
<text x="269" y="296.5" class="tk" text-anchor="middle">4</text>
<text x="269" y="266.9" class="tk" text-anchor="middle">5</text>
<text x="269" y="237.3" class="tk" text-anchor="middle">6</text>
<text x="380.7" y="205.9" class="sub" text-anchor="middle" textLength="205.3" lengthAdjust="spacingAndGlyphs">Hourly avarage (48h EUV normalized scaling with shifting)</text>
<text x="381.2" y="366.1" class="xl" text-anchor="middle">Time (hours)</text>
<text x="328.2" y="368.2" class="pl" text-anchor="middle">(E)</text>
<text transform="translate(261.6,280.05) rotate(-90)" class="yl" text-anchor="middle">RMSE [10^16 electrons/m^2]</text>
<clipPath id="clipF"><rect x="271.4" y="384.3" width="218.6" height="141.7"/></clipPath>
<path d="M281.3 384.3V526M326.45 384.3V526M371.6 384.3V526M416.75 384.3V526M461.9 384.3V526M271.4 498.6H490M271.4 469.3H490M271.4 440H490M271.4 410.7H490" stroke="#f0f0f0" stroke-width="0.8" fill="none"/>
<rect x="271.4" y="384.3" width="218.6" height="141.7" fill="none" stroke="#e9e9e9" stroke-width="0.8"/>
<g clip-path="url(#clipF)"><polygon points="281.3,397.22 299.36,426.81 317.42,438.54 335.48,444.4 353.54,453.19 371.6,460.51 389.66,461.98 407.72,467.84 425.78,467.84 443.84,473.69 461.9,467.84 479.96,460.51 479.96,500.06 461.9,507.39 443.84,506.8 425.78,507.39 407.72,508.56 389.66,503 371.6,498.6 353.54,490.4 335.48,489.22 317.42,487.47 299.36,472.23 281.3,457.58" fill="#4c72b0" fill-opacity="0.2"/><polygon points="281.3,487.76 299.36,449.38 317.42,434.43 335.48,431.21 353.54,426.81 371.6,413.63 389.66,396.93 407.72,396.05 425.78,392.24 443.84,397.51 461.9,403.38 479.96,406.6 479.96,467.25 461.9,464.32 443.84,456.41 425.78,455.24 407.72,456.41 389.66,456.41 371.6,468.71 353.54,473.11 335.48,476.33 317.42,480.43 299.36,490.4 281.3,517.94" fill="#dd8452" fill-opacity="0.2"/><polygon points="281.3,488.64 299.36,455.82 317.42,443.22 335.48,432.38 353.54,428.57 371.6,427.69 389.66,426.23 407.72,424.76 425.78,423.3 443.84,424.47 461.9,421.54 479.96,413.63 479.96,478.97 461.9,483.07 443.84,481.9 425.78,481.02 407.72,482.49 389.66,481.9 371.6,479.85 353.54,477.8 335.48,480.43 317.42,486 299.36,495.08 281.3,517.94" fill="#55a868" fill-opacity="0.2"/><polygon points="281.3,489.2 299.36,454.2 317.42,440.14 335.48,430.3 353.54,428.02 371.6,428.73 389.66,427.34 407.72,427.37 425.78,424.41 443.84,427.08 461.9,423.65 479.96,415.86 479.96,479.85 461.9,483.95 443.84,483.36 425.78,481.02 407.72,483.95 389.66,481.9 371.6,479.85 353.54,476.33 335.48,477.5 317.42,482.19 299.36,492.74 281.3,517.94" fill="#c44e52" fill-opacity="0.2"/><polygon points="281.3,489.2 299.36,455.67 317.42,441.31 335.48,432.64 353.54,429.19 371.6,429.9 389.66,430.27 407.72,430.3 425.78,427.93 443.84,431.19 461.9,427.46 479.96,418.79 479.96,482.78 461.9,487.76 443.84,487.47 425.78,484.54 407.72,486.88 389.66,484.83 371.6,481.02 353.54,477.5 335.48,479.85 317.42,483.36 299.36,494.21 281.3,517.94" fill="#8172b3" fill-opacity="0.2"/><polygon points="281.3,489.2 299.36,455.38 317.42,440.73 335.48,432.05 353.54,428.61 371.6,428.43 389.66,428.51 407.72,429.12 425.78,426.46 443.84,428.55 461.9,425.7 479.96,418.79 479.96,482.78 461.9,486 443.84,484.83 425.78,483.07 407.72,485.71 389.66,483.07 371.6,479.56 353.54,476.92 335.48,479.26 317.42,482.78 299.36,493.91 281.3,517.94" fill="#937860" fill-opacity="0.2"/><polygon points="281.3,489.2 299.36,455.67 317.42,441.31 335.48,432.35 353.54,428.9 371.6,429.31 389.66,430.57 407.72,430.88 425.78,428.81 443.84,431.77 461.9,428.05 479.96,419.37 479.96,483.36 461.9,488.35 443.84,488.05 425.78,485.42 407.72,487.47 389.66,485.12 371.6,480.43 353.54,477.21 335.48,479.56 317.42,483.36 299.36,494.21 281.3,517.94" fill="#da8bc3" fill-opacity="0.2"/><polygon points="281.3,489.2 299.36,455.67 317.42,441.02 335.48,432.35 353.54,428.61 371.6,428.14 389.66,427.93 407.72,428.54 425.78,426.17 443.84,428.26 461.9,425.12 479.96,417.61 479.96,481.61 461.9,485.42 443.84,484.54 425.78,482.78 407.72,485.12 389.66,482.49 371.6,479.26 353.54,476.92 335.48,479.56 317.42,483.07 299.36,494.21 281.3,517.94" fill="#8c8c8c" fill-opacity="0.2"/><polygon points="281.3,488.92 299.36,456.19 317.42,441.24 335.48,430.75 353.54,427.57 371.6,426.16 389.66,422.68 407.72,423.28 425.78,421.51 443.84,422.99 461.9,419.81 479.96,411.37 479.96,476.04 461.9,480.73 443.84,479.85 425.78,478.68 407.72,480.43 389.66,477.8 371.6,477.8 353.54,476.33 335.48,478.38 317.42,483.66 299.36,495.08 281.3,517.94" fill="#ccb974" fill-opacity="0.2"/><polyline points="281.3,429.16 299.36,451.43 317.42,460.51 335.48,465.2 353.54,472.82 371.6,481.02 389.66,483.07 407.72,488.35 425.78,488.35 443.84,490.4 461.9,487.47 479.96,481.02" fill="none" stroke="#4c72b0" stroke-width="1.2" stroke-linejoin="round"/><polyline points="281.3,502.7 299.36,469.3 317.42,455.82 335.48,449.38 353.54,446.74 371.6,442.34 389.66,428.57 407.72,427.11 425.78,425.35 443.84,427.69 461.9,433.55 479.96,435.61" fill="none" stroke="#dd8452" stroke-width="1.2" stroke-linejoin="round"/><polyline points="281.3,502.7 299.36,473.99 317.42,461.39 335.48,453.48 353.54,451.43 371.6,453.48 389.66,454.06 407.72,453.19 425.78,451.13 443.84,453.19 461.9,452.31 479.96,447.33" fill="none" stroke="#55a868" stroke-width="1.2" stroke-linejoin="round"/><polyline points="281.3,502.7 299.36,471.64 317.42,457.58 335.48,450.55 353.54,449.96 371.6,453.48 389.66,454.06 407.72,454.65 425.78,451.13 443.84,454.65 461.9,453.19 479.96,448.2" fill="none" stroke="#c44e52" stroke-width="1.2" stroke-linejoin="round"/><polyline points="281.3,502.7 299.36,473.11 317.42,458.75 335.48,452.89 353.54,451.13 371.6,454.65 389.66,456.99 407.72,457.58 425.78,454.65 443.84,458.75 461.9,456.99 479.96,451.13" fill="none" stroke="#8172b3" stroke-width="1.2" stroke-linejoin="round"/><polyline points="281.3,502.7 299.36,472.82 317.42,458.17 335.48,452.31 353.54,450.55 371.6,453.19 389.66,455.24 407.72,456.41 425.78,453.19 443.84,456.12 461.9,455.24 479.96,451.13" fill="none" stroke="#937860" stroke-width="1.2" stroke-linejoin="round"/><polyline points="281.3,502.7 299.36,473.11 317.42,458.75 335.48,452.6 353.54,450.84 371.6,454.06 389.66,457.29 407.72,458.17 425.78,455.53 443.84,459.34 461.9,457.58 479.96,451.72" fill="none" stroke="#da8bc3" stroke-width="1.2" stroke-linejoin="round"/><polyline points="281.3,502.7 299.36,473.11 317.42,458.46 335.48,452.6 353.54,450.55 371.6,452.89 389.66,454.65 407.72,455.82 425.78,452.89 443.84,455.82 461.9,454.65 479.96,449.96" fill="none" stroke="#8c8c8c" stroke-width="1.2" stroke-linejoin="round"/><polyline points="281.3,502.7 299.36,473.99 317.42,459.05 335.48,451.43 353.54,449.96 371.6,451.43 389.66,449.96 407.72,451.13 425.78,448.79 443.84,451.13 461.9,449.96 479.96,444.4" fill="none" stroke="#ccb974" stroke-width="1.2" stroke-linejoin="round"/></g>
<rect x="288.8" y="384.2" width="76" height="58.68" rx="1" fill="#ffffff" fill-opacity="0.0"/>
<path d="M290.8 388.4H300.8" stroke="#4c72b0" stroke-width="1.3"/>
<text transform="translate(303.4,390.1) scale(0.5)" class="lg">C1P RMSE</text>
<path d="M290.8 394.71H300.8" stroke="#dd8452" stroke-width="1.3"/>
<text transform="translate(303.4,396.41) scale(0.5)" class="lg">DMD +0.0%</text>
<path d="M290.8 401.02H300.8" stroke="#55a868" stroke-width="1.3"/>
<text transform="translate(303.4,402.72) scale(0.5)" class="lg">DMDc +47.4%</text>
<path d="M290.8 407.33H300.8" stroke="#c44e52" stroke-width="1.3"/>
<text transform="translate(303.4,409.03) scale(0.5)" class="lg">72h EUV (2h shift) +45.1%</text>
<path d="M290.8 413.64H300.8" stroke="#8172b3" stroke-width="1.3"/>
<text transform="translate(303.4,415.34) scale(0.5)" class="lg">72h EUV (4h shift) +46.6%</text>
<path d="M290.8 419.95H300.8" stroke="#937860" stroke-width="1.3"/>
<text transform="translate(303.4,421.65) scale(0.5)" class="lg">72h EUV (6h shift) +39.2%</text>
<path d="M290.8 426.26H300.8" stroke="#da8bc3" stroke-width="1.3"/>
<text transform="translate(303.4,427.96) scale(0.5)" class="lg">72h EUV (8h shift) +40.6%</text>
<path d="M290.8 432.57H300.8" stroke="#8c8c8c" stroke-width="1.3"/>
<text transform="translate(303.4,434.27) scale(0.5)" class="lg">72h EUV (10h shift) +33.9%</text>
<path d="M290.8 438.88H300.8" stroke="#ccb974" stroke-width="1.3"/>
<text transform="translate(303.4,440.58) scale(0.5)" class="lg">72h EUV (12h shift) +35.2%</text>
<text x="281.8" y="532.7" class="tk" text-anchor="middle">0</text>
<text x="326.95" y="532.7" class="tk" text-anchor="middle">5</text>
<text x="372.1" y="532.7" class="tk" text-anchor="middle">10</text>
<text x="417.25" y="532.7" class="tk" text-anchor="middle">15</text>
<text x="462.4" y="532.7" class="tk" text-anchor="middle">20</text>
<text x="269" y="501.1" class="tk" text-anchor="middle">3</text>
<text x="269" y="471.8" class="tk" text-anchor="middle">4</text>
<text x="269" y="442.5" class="tk" text-anchor="middle">5</text>
<text x="269" y="413.2" class="tk" text-anchor="middle">6</text>
<text x="380.7" y="381.6" class="sub" text-anchor="middle" textLength="205.3" lengthAdjust="spacingAndGlyphs">Hourly avarage (72h EUV normalized scaling with shifting)</text>
<text x="381.2" y="542.2" class="xl" text-anchor="middle">Time (hours)</text>
<text x="328.2" y="541.3" class="pl" text-anchor="middle">(F)</text>
<text transform="translate(261.6,455.85) rotate(-90)" class="yl" text-anchor="middle">RMSE [10^16 electrons/m^2]</text>
</svg>
</body></html>
